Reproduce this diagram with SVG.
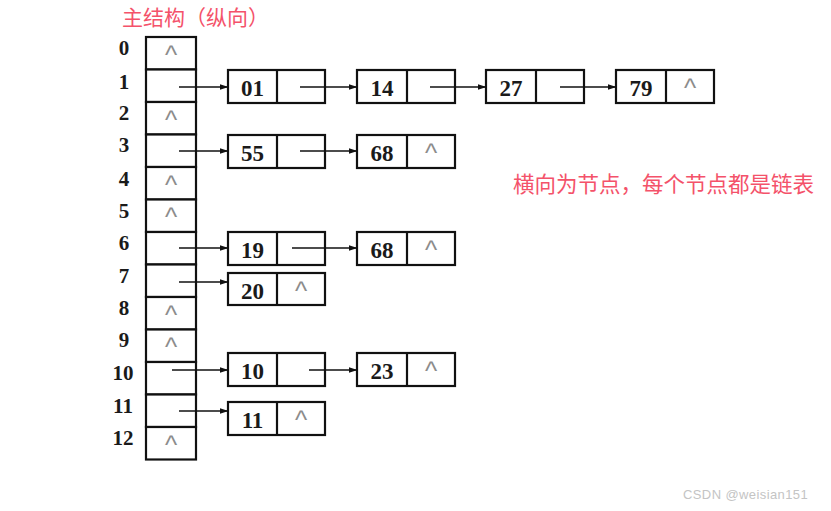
<svg xmlns="http://www.w3.org/2000/svg" width="831" height="511" viewBox="0 0 831 511">
<defs>
<style>
.box{fill:#fff;stroke:#111;stroke-width:2.2}
.div{stroke:#111;stroke-width:2.2}
.idx{font-family:"Liberation Serif",serif;font-weight:bold;font-size:21px;fill:#1a1a1a;text-anchor:middle}
.val{font-family:"Liberation Serif",serif;font-weight:bold;font-size:23px;fill:#1a1a1a;text-anchor:middle}
.nil{font-family:"Liberation Sans",sans-serif;font-size:26px;fill:#8c8c8c;text-anchor:middle}
.red{font-family:"Noto Sans CJK SC",sans-serif;fill:#f4526a}
.wm{font-family:"Liberation Sans",sans-serif;font-size:13px;fill:#c4c4c4}
.arr{stroke:#111;stroke-width:1.3;fill:none;marker-end:url(#ah)}
</style>
<marker id="ah" markerUnits="userSpaceOnUse" markerWidth="9" markerHeight="7" refX="8.5" refY="3.5" orient="auto">
<path d="M0,0.5 L9,3.5 L0,6.5 z" fill="#111"/>
</marker>
</defs>
<rect width="831" height="511" fill="#fff"/>

<text class="red" x="122" y="25" font-size="21">主结构（纵向）</text>
<text class="red" x="513" y="192" font-size="21.5">横向为节点，每个节点都是链表</text>

<g id="index-labels">
<text class="idx" x="124" y="55">0</text>
<text class="idx" x="124" y="89">1</text>
<text class="idx" x="124" y="120">2</text>
<text class="idx" x="124" y="152">3</text>
<text class="idx" x="124" y="186">4</text>
<text class="idx" x="124" y="218">5</text>
<text class="idx" x="124" y="250">6</text>
<text class="idx" x="124" y="283">7</text>
<text class="idx" x="124" y="315">8</text>
<text class="idx" x="124" y="347">9</text>
<text class="idx" x="123" y="380">10</text>
<text class="idx" x="123" y="413">11</text>
<text class="idx" x="123" y="445">12</text>
</g>

<g id="main">
<rect class="box" x="146" y="37" width="50" height="32.5"/><text class="nil" x="171" y="63.5">^</text>
<rect class="box" x="146" y="69.5" width="50" height="32.5"/>
<rect class="box" x="146" y="102" width="50" height="32.5"/><text class="nil" x="171" y="128.5">^</text>
<rect class="box" x="146" y="134.5" width="50" height="32.5"/>
<rect class="box" x="146" y="167" width="50" height="32.5"/><text class="nil" x="171" y="193.5">^</text>
<rect class="box" x="146" y="199.5" width="50" height="32.5"/><text class="nil" x="171" y="226">^</text>
<rect class="box" x="146" y="232" width="50" height="32.5"/>
<rect class="box" x="146" y="264.5" width="50" height="32.5"/>
<rect class="box" x="146" y="297" width="50" height="32.5"/><text class="nil" x="171" y="323.5">^</text>
<rect class="box" x="146" y="329.5" width="50" height="32.5"/><text class="nil" x="171" y="356">^</text>
<rect class="box" x="146" y="362" width="50" height="32.5"/>
<rect class="box" x="146" y="394.5" width="50" height="32.5"/>
<rect class="box" x="146" y="427" width="50" height="32.5"/><text class="nil" x="171" y="453.5">^</text>
</g>

<g id="n01"><rect class="box" x="228" y="70" width="97" height="33"/><line class="div" x1="277" y1="70" x2="277" y2="103"/><text class="val" x="252.5" y="96">01</text></g>
<g id="n14"><rect class="box" x="357" y="70" width="98" height="33"/><line class="div" x1="407" y1="70" x2="407" y2="103"/><text class="val" x="382" y="96">14</text></g>
<g id="n27"><rect class="box" x="486" y="70" width="98" height="33"/><line class="div" x1="536" y1="70" x2="536" y2="103"/><text class="val" x="511" y="96">27</text></g>
<g id="n79"><rect class="box" x="616" y="70" width="98" height="33"/><line class="div" x1="666" y1="70" x2="666" y2="103"/><text class="val" x="641" y="96">79</text><text class="nil" x="690" y="97">^</text></g>

<g id="n55"><rect class="box" x="228" y="135" width="97" height="33"/><line class="div" x1="277" y1="135" x2="277" y2="168"/><text class="val" x="252.5" y="161">55</text></g>
<g id="n68a"><rect class="box" x="357" y="135" width="98" height="33"/><line class="div" x1="407" y1="135" x2="407" y2="168"/><text class="val" x="382" y="161">68</text><text class="nil" x="431" y="162">^</text></g>

<g id="n19"><rect class="box" x="228" y="232" width="97" height="33"/><line class="div" x1="277" y1="232" x2="277" y2="265"/><text class="val" x="252.5" y="258">19</text></g>
<g id="n68b"><rect class="box" x="357" y="232" width="98" height="33"/><line class="div" x1="407" y1="232" x2="407" y2="265"/><text class="val" x="382" y="258">68</text><text class="nil" x="431" y="259">^</text></g>

<g id="n20"><rect class="box" x="228" y="273" width="97" height="32"/><line class="div" x1="277" y1="273" x2="277" y2="305"/><text class="val" x="252.5" y="299">20</text><text class="nil" x="301" y="300">^</text></g>

<g id="n10"><rect class="box" x="228" y="353" width="97" height="33"/><line class="div" x1="277" y1="353" x2="277" y2="386"/><text class="val" x="252.5" y="379">10</text></g>
<g id="n23"><rect class="box" x="357" y="353" width="98" height="33"/><line class="div" x1="407" y1="353" x2="407" y2="386"/><text class="val" x="382" y="379">23</text><text class="nil" x="431" y="380">^</text></g>

<g id="n11"><rect class="box" x="228" y="402" width="97" height="33"/><line class="div" x1="277" y1="402" x2="277" y2="435"/><text class="val" x="252.5" y="428">11</text><text class="nil" x="301" y="429">^</text></g>

<g id="connectors">
<line class="arr" x1="179" y1="87" x2="228" y2="87"/>
<line class="arr" x1="300" y1="87" x2="357" y2="87"/>
<line class="arr" x1="430" y1="87" x2="486" y2="87"/>
<line class="arr" x1="560" y1="87" x2="616" y2="87"/>
<line class="arr" x1="179" y1="151" x2="228" y2="151"/>
<line class="arr" x1="300" y1="151" x2="357" y2="151"/>
<line class="arr" x1="179" y1="248" x2="228" y2="248"/>
<line class="arr" x1="292" y1="248" x2="357" y2="248"/>
<line class="arr" x1="179" y1="282" x2="228" y2="282"/>
<line class="arr" x1="172" y1="370" x2="228" y2="370"/>
<line class="arr" x1="309" y1="370" x2="357" y2="370"/>
<line class="arr" x1="179" y1="411" x2="228" y2="411"/>
</g>

<text class="wm" x="683" y="499" letter-spacing="0.4">CSDN @weisian151</text>
</svg>
